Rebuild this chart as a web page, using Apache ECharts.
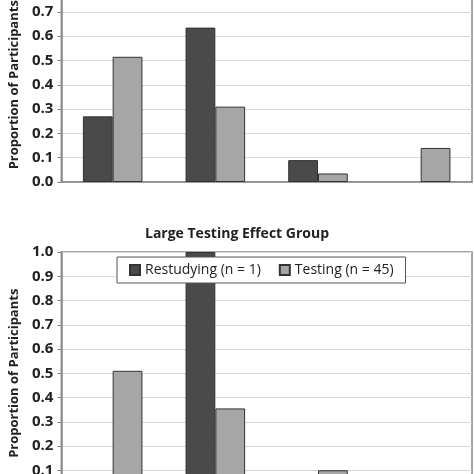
<!DOCTYPE html>
<html><head><meta charset="utf-8">
<script src="https://cdn.jsdelivr.net/npm/echarts@6/dist/echarts.min.js"></script>
<style>html,body{margin:0;padding:0;background:#fff;overflow:hidden;width:474px;height:474px}#c{position:absolute;left:0;top:-20px;width:474px;height:522px}</style>
</head><body><div id="c"></div>
<script>
const categories = ['A', 'B', 'C', 'D'];
const topRestudying = [0.27, 0.635, 0.09, null];
const topTesting = [0.515, 0.31, 0.035, 0.14];
const bottomRestudying = [null, 1.0, null, null];
const bottomTesting = [0.51, 0.355, 0.1, 0.03];
const yTicksTop = [0, 0.8, 0.1];
const yTicksBottom = [0, 1.0, 0.1];
const titleBottom = 'Large Testing Effect Group';
const yName = 'Proportion of Participants';

const dark = '#4a4a4a', light = '#a6a6a6';
function xAx(i){return {type:'category',gridIndex:i,data:categories,axisLabel:{show:false},axisTick:{show:false},axisLine:{lineStyle:{color:'#888',width:1.5}}};}
function yAx(i,t){return {type:'value',gridIndex:i,min:t[0],max:t[1],interval:t[2],name:yName,nameLocation:'middle',nameGap:40,
  nameTextStyle:{fontFamily:'Open Sans',fontWeight:'bold',fontSize:13,color:'#222'},
  axisLabel:{formatter:v=>v.toFixed(1),fontFamily:'Open Sans',fontWeight:'bold',fontSize:15,color:'#222',margin:8},
  axisLine:{show:true,lineStyle:{color:'#888',width:1.5}},axisTick:{show:true,length:4,lineStyle:{color:'#888'}},
  splitLine:{lineStyle:{color:'#d9d9d9',width:1}}};}
function bar(name,data,color,i){return {name,type:'bar',data,xAxisIndex:i,yAxisIndex:i,barGap:'0%',barCategoryGap:'42%',
  itemStyle:{color,borderColor:'#333',borderWidth:1},silent:true};}
const chart = echarts.init(document.getElementById('c'));
chart.setOption({
  animation:false,
  title:{text:titleBottom,left:'center',top:242,textStyle:{fontFamily:'Open Sans',fontWeight:'bold',fontSize:14,color:'#222'}},
  legend:{data:['Restudying (n = 1)','Testing (n = 45)'],left:117,top:277,padding:[6,12],itemGap:18,icon:'rect',
    backgroundColor:'#fff',borderColor:'#555',borderWidth:1,itemWidth:10,itemHeight:10,
    textStyle:{fontFamily:'Open Sans',fontSize:14,color:'#222'}},
  grid:[{left:58,right:2,top:0,bottom:320,show:true,borderColor:'#888',borderWidth:1.5},
        {left:58,right:2,top:272,bottom:0,show:true,borderColor:'#888',borderWidth:1.5}],
  xAxis:[xAx(0),xAx(1)],
  yAxis:[yAx(0,yTicksTop),yAx(1,yTicksBottom)],
  series:[bar('Restudying (n = 1)',topRestudying,dark,0),bar('Testing (n = 45)',topTesting,light,0),
          bar('Restudying (n = 1)',bottomRestudying,dark,1),bar('Testing (n = 45)',bottomTesting,light,1)]
});
</script></body></html>
